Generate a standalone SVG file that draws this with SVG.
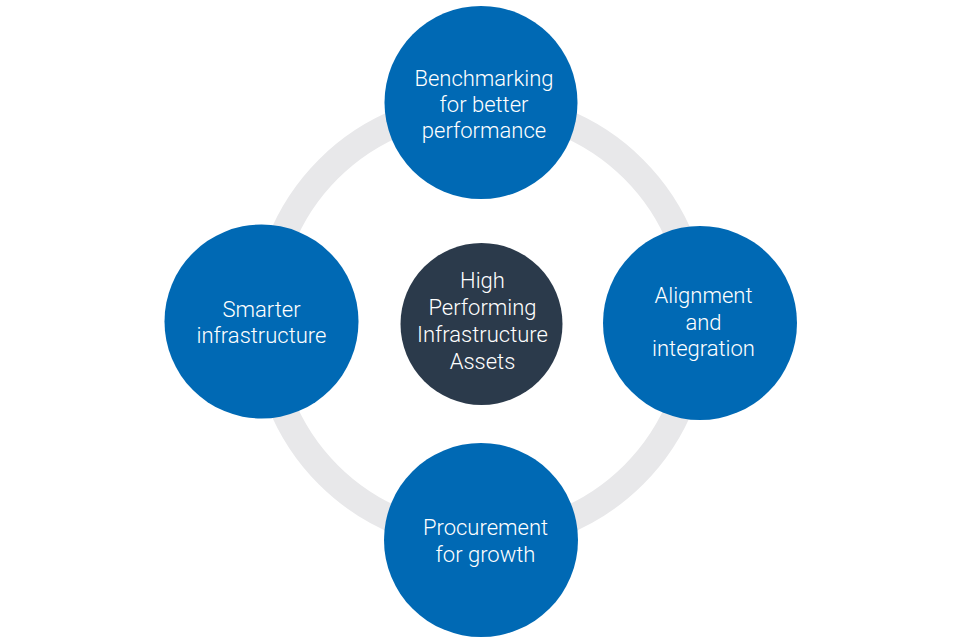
<svg xmlns="http://www.w3.org/2000/svg" width="960" height="641" viewBox="0 0 960 641">
<style>
.lbl{font-family:Roboto,"Liberation Sans",sans-serif;font-weight:300;font-size:22px;fill:#ffffff;text-anchor:middle}
.node{fill:#0069b4}
.core{fill:#2b3a4b}
</style>
<rect width="960" height="641" fill="#ffffff"/>
<g id="connectors">
<circle cx="481" cy="322" r="216" fill="none" stroke="#e8e8ea" stroke-width="27"/>
</g>
<g id="node-top">
<circle class="node" cx="481" cy="102.5" r="96.5"/>
<text class="lbl" x="484" y="86">Benchmarking</text>
<text class="lbl" x="484" y="112">for better</text>
<text class="lbl" x="484" y="138">performance</text>
</g>
<g id="node-left">
<circle class="node" cx="261.5" cy="321.5" r="97"/>
<text class="lbl" x="261.5" y="317">Smarter</text>
<text class="lbl" x="261.5" y="343">infrastructure</text>
</g>
<g id="node-right">
<circle class="node" cx="700" cy="323" r="97"/>
<text class="lbl" x="703.5" y="303">Alignment</text>
<text class="lbl" x="703.5" y="330">and</text>
<text class="lbl" x="703.5" y="356">integration</text>
</g>
<g id="node-bottom">
<circle class="node" cx="481" cy="540" r="97"/>
<text class="lbl" x="485.5" y="535">Procurement</text>
<text class="lbl" x="485.5" y="562">for growth</text>
</g>
<g id="node-center">
<circle class="core" cx="481.5" cy="324" r="81"/>
<text class="lbl" x="482.5" y="288">High</text>
<text class="lbl" x="482.5" y="315">Performing</text>
<text class="lbl" x="482.5" y="342">Infrastructure</text>
<text class="lbl" x="482.5" y="369">Assets</text>
</g>
</svg>
